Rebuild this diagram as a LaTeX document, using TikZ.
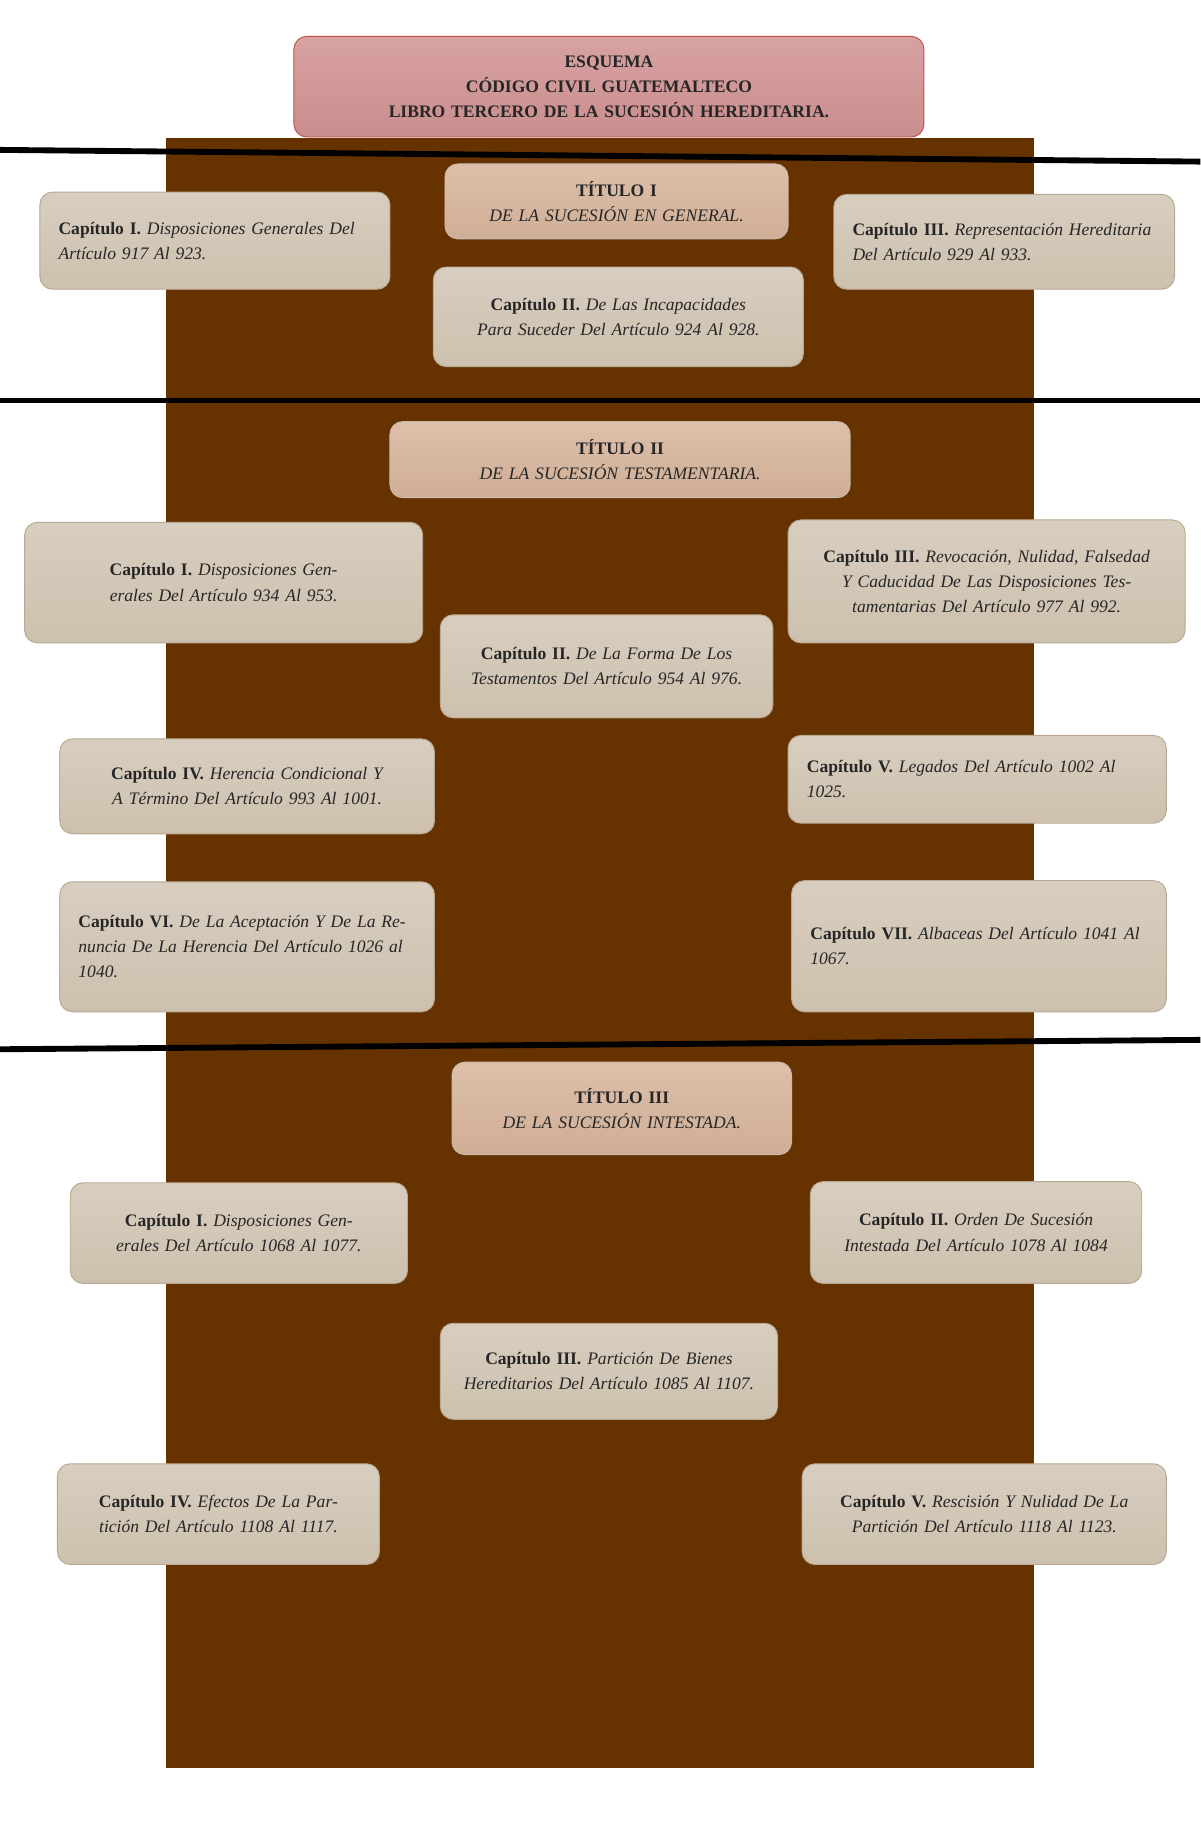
\documentclass[tikz,border=0pt]{standalone}
\usepackage{fontspec}
\setmainfont{Liberation Serif}
\begin{document}
\begin{tikzpicture}[x=1pt,y=-1pt]
\definecolor{brownbg}{HTML}{663300}
\definecolor{chapT}{HTML}{D8CEC0}
\definecolor{chapB}{HTML}{CDC0AE}
\definecolor{chapD}{HTML}{B8A890}
\definecolor{titT}{HTML}{DDBFAA}
\definecolor{titB}{HTML}{CFAE96}
\definecolor{headT}{HTML}{D8A2A2}
\definecolor{headB}{HTML}{C98D8D}
\definecolor{headD}{HTML}{C0504D}
\tikzset{
 chap/.style={draw=chapD, line width=0.8pt, rounded corners=11pt, top color=chapT, bottom color=chapB, inner sep=0pt, font=\fontsize{15}{21.5}\selectfont, text=black!85},
 tit/.style={chap, top color=titT, bottom color=titB, draw=titB!80!black!60},
 head/.style={chap, top color=headT, bottom color=headB, draw=headD},
 bar/.style={line width=5pt, black}
}
\newcommand\bx[8]{%
 \pgfmathsetmacro\bw{#5-#3}\pgfmathsetmacro\bh{#6-#4}\pgfmathsetmacro\tw{#5-#3-32}%
 \node[#7, minimum width=\bw pt, minimum height=\bh pt, text width=\tw pt, align=#8] (#1) at ({(#3+#5)/2},{(#4+#6)/2}) {#2};}
\useasboundingbox (0,0) rectangle (1025,1567);
\fill[white] (0,0) rectangle (1025,1567);
\fill[brownbg] (142,118) rectangle (883,1510);
\bx{head}{\textbf{ESQUEMA}\\\textbf{CÓDIGO CIVIL GUATEMALTECO}\\\textbf{LIBRO TERCERO DE LA SUCESIÓN HEREDITARIA.}}{251}{31}{789}{117}{head}{center}
\coordinate (l1a) at (0,128); \coordinate (l1b) at (1025,138);
\draw[bar] (l1a) -- (l1b);
\bx{t1}{\textbf{TÍTULO I}\\\textit{DE LA SUCESIÓN EN GENERAL.}}{380}{140}{673}{204}{tit}{center}
\bx{t1c1}{\textbf{Capítulo I.} \textit{Disposiciones Generales Del Artículo 917 Al 923.}}{34}{164}{333}{247}{chap}{left}
\bx{t1c3}{\textbf{Capítulo III.} \textit{Representación Hereditaria Del Artículo 929 Al 933.}}{712}{166}{1003}{247}{chap}{left}
\bx{t1c2}{\textbf{Capítulo II.} \textit{De Las Incapacidades Para Suceder Del Artículo 924 Al 928.}}{370}{228}{686}{313}{chap}{center}
\coordinate (l2a) at (0,342); \coordinate (l2b) at (1025,342);
\draw[bar] (l2a) -- (l2b);
\bx{t2}{\textbf{TÍTULO II}\\\textit{DE LA SUCESIÓN TESTAMENTARIA.}}{333}{360}{726}{425}{tit}{center}
\bx{t2c1}{\textbf{Capítulo I.} \textit{Disposiciones Generales Del Artículo 934 Al 953.}}{21}{446}{361}{549}{chap}{center}
\bx{t2c3}{\textbf{Capítulo III.} \textit{Revocación, Nulidad, Falsedad Y Caducidad De Las Disposiciones Testamentarias Del Artículo 977 Al 992.}}{673}{444}{1012}{549}{chap}{center}
\bx{t2c2}{\textbf{Capítulo II.} \textit{De La Forma De Los Testamentos Del Artículo 954 Al 976.}}{376}{525}{660}{613}{chap}{center}
\bx{t2c4}{\textbf{Capítulo IV.} \textit{Herencia Condicional Y A Término Del Artículo 993 Al 1001.}}{51}{631}{371}{712}{chap}{center}
\bx{t2c5}{\textbf{Capítulo V.} \textit{Legados Del Artículo 1002 Al 1025.}}{673}{628}{996}{703}{chap}{left}
\bx{t2c6}{\textbf{Capítulo VI.} \textit{De La Aceptación Y De La Renuncia De La Herencia Del Artículo 1026 al 1040.}}{51}{753}{371}{864}{chap}{left}
\bx{t2c7}{\textbf{Capítulo VII.} \textit{Albaceas Del Artículo 1041 Al 1067.}}{676}{752}{996}{864}{chap}{left}
\coordinate (l3a) at (0,896); \coordinate (l3b) at (1025,888);
\draw[bar] (l3a) -- (l3b);
\bx{t3}{\textbf{TÍTULO III}\\\textit{DE LA SUCESIÓN INTESTADA.}}{386}{907}{676}{986}{tit}{center}
\bx{t3c1}{\textbf{Capítulo I.} \textit{Disposiciones Generales Del Artículo 1068 Al 1077.}}{60}{1010}{348}{1096}{chap}{center}
\bx{t3c2}{\textbf{Capítulo II.} \textit{Orden De Sucesión Intestada Del Artículo 1078 Al 1084}}{692}{1009}{975}{1096}{chap}{center}
\bx{t3c3}{\textbf{Capítulo III.} \textit{Partición De Bienes Hereditarios Del Artículo 1085 Al 1107.}}{376}{1130}{664}{1212}{chap}{center}
\bx{t3c4}{\textbf{Capítulo IV.} \textit{Efectos De La Partición Del Artículo 1108 Al 1117.}}{49}{1250}{324}{1336}{chap}{center}
\bx{t3c5}{\textbf{Capítulo V.} \textit{Rescisión Y Nulidad De La Partición Del Artículo 1118 Al 1123.}}{685}{1250}{996}{1336}{chap}{center}
\end{tikzpicture}
\end{document}
